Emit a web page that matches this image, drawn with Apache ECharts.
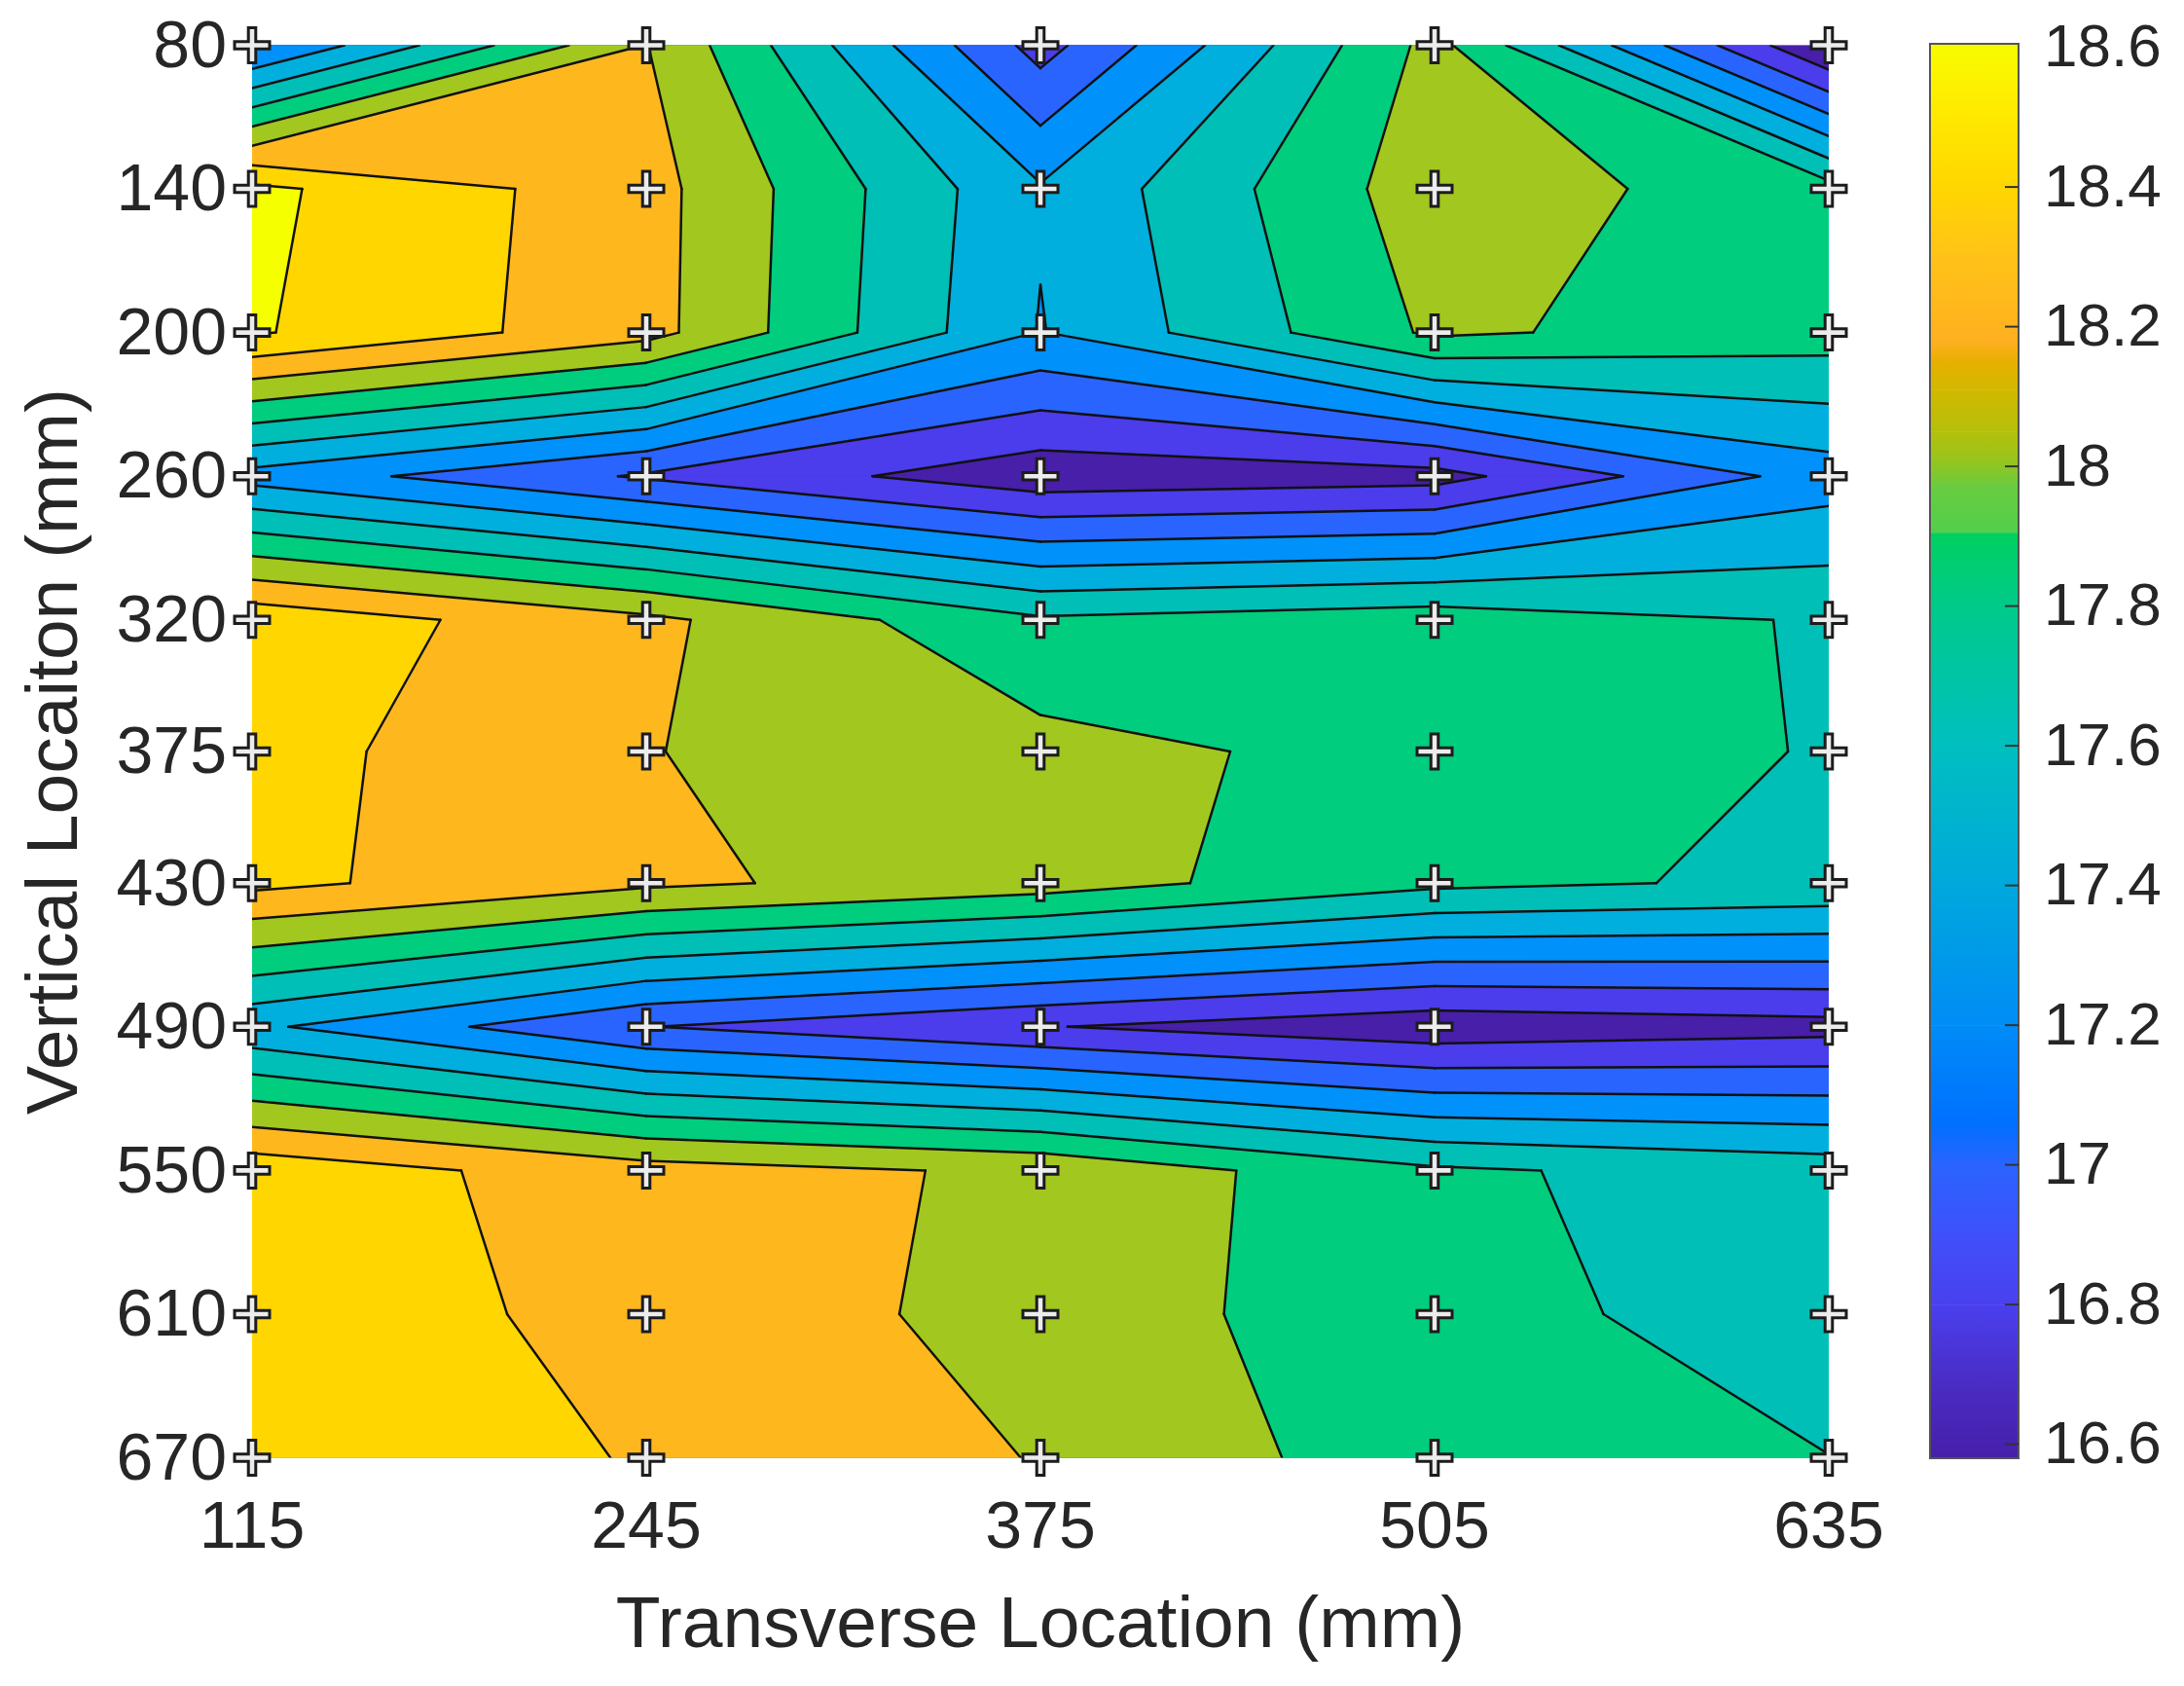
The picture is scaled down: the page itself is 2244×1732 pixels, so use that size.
<!DOCTYPE html>
<html><head><meta charset="utf-8">
<style>html,body{margin:0;padding:0;background:#fff}#c{width:2244px;height:1732px}</style>
<script src="https://cdn.jsdelivr.net/npm/echarts@6/dist/echarts.min.js"></script>
</head><body><div id="c"></div>
<script>
const transverse = [115, 245, 375, 505, 635];
const vertical = [80, 140, 200, 260, 320, 375, 430, 490, 550, 610, 670];
const row80  = [17.153, 18.207, 16.92, 18.07, 16.58];
const row140 = [18.647, 18.277, 17.42, 18.12, 17.875];
const row200 = [18.621, 18.273, 17.39, 18.035, 17.895];
const row260 = [17.323, 16.975, 16.67, 16.725, 17.30];
const row320 = [18.54, 18.247, 17.83, 17.91, 17.782];
const row375 = [18.479, 18.207, 18.065, 17.93, 17.785];
const row430 = [18.453, 18.24, 18.095, 17.845, 17.765];
const row490 = [17.44, 17.005, 16.81, 16.665, 16.73];
const row550 = [18.53, 18.285, 18.165, 17.833, 17.711];
const row610 = [18.51, 18.34, 18.122, 17.86, 17.72];
const row670 = [18.5, 18.39, 18.19, 17.88, 17.802];
const rows = [row80,row140,row200,row260,row320,row375,row430,row490,row550,row610,row670];
const levels = [16.8,17.0,17.2,17.4,17.6,17.8,18.0,18.2,18.4,18.6];
const baseColor = '#471fa9';
const bandColors = ['#4b3cec','#2a64ff','#0091fb','#00afdd','#00bfb6','#00cd7e','#a2c71f','#ffb71e','#ffd600','#f5ff00'];
const colorbarTicks = [16.6,16.8,17,17.2,17.4,17.6,17.8,18,18.2,18.4,18.6];
const colorbarValues = [16.58,16.7,16.8,16.9,17.0,17.06,17.2,17.4,17.6,17.8,17.905,17.906,17.97,18.01,18.05,18.11,18.15,18.18,18.3,18.4,18.5,18.605];
const colorbarColors = ['#471fa9','#4a2ec8','#4a40ee','#3f50fa','#2a64ff','#0070ff','#008cf6','#00a8dc','#00bfc0','#00ca8a','#00d060','#52cf4c','#68cc40','#98c41c','#b4c00c','#d2b800','#e6b000','#ffb020','#ffc218','#ffd600','#ffe800','#f8fc00'];

const ink = '#262626';
const font = '"Liberation Sans", Arial, sans-serif';

// one record per grid cell
const cells = [];
for (let j = 0; j < vertical.length - 1; j++) for (let i = 0; i < transverse.length - 1; i++) {
  cells.push([transverse[i], vertical[j], transverse[i+1], vertical[j+1],
    rows[j][i], rows[j][i+1], rows[j+1][i+1], rows[j+1][i]]);
}
function cellCorners(api) {
  const x0=api.value(0), y0=api.value(1), x1=api.value(2), y1=api.value(3);
  return [[x0,y0,api.value(4)],[x1,y0,api.value(5)],[x1,y1,api.value(6)],[x0,y1,api.value(7)]];
}
function cross(a,b,L){const t=(L-a[2])/(b[2]-a[2]);return [a[0]+t*(b[0]-a[0]),a[1]+t*(b[1]-a[1])];}
function regionAbove(cs,L){
  const out=[];
  for(let k=0;k<4;k++){const a=cs[k],b=cs[(k+1)%4];
    if(a[2]>=L) out.push([a[0],a[1]]);
    if((a[2]>=L)!==(b[2]>=L)) out.push(cross(a,b,L));
  }
  return out;
}
function segments(cs,L){
  const pts=[];let exitFirst=null;
  for(let k=0;k<4;k++){const a=cs[k],b=cs[(k+1)%4];
    if((a[2]>=L)!==(b[2]>=L)){ if(exitFirst===null) exitFirst=a[2]>=L; pts.push(cross(a,b,L)); }
  }
  if(pts.length===2) return [pts];
  if(pts.length===4) return exitFirst?[[pts[0],pts[1]],[pts[2],pts[3]]]:[[pts[1],pts[2]],[pts[3],pts[0]]];
  return [];
}
// one series per band so a band's seams never paint over a higher band
function fillRenderer(L,col){
  return function(params,api){
    const cs=cellCorners(api);
    const poly=L===null?cs.map(c=>[c[0],c[1]]):regionAbove(cs,L);
    if(poly.length<3) return {type:'group',children:[]};
    return {type:'polygon',shape:{points:poly.map(p=>api.coord(p))},
      style:{fill:col,stroke:col,lineWidth:1}};
  };
}
function renderLines(params,api){
  const cs=cellCorners(api), children=[];
  levels.forEach(L=>segments(cs,L).forEach(s=>children.push({type:'polyline',
    shape:{points:s.map(p=>api.coord(p))},
    style:{stroke:'#111',lineWidth:2.5,fill:null,lineCap:'round'}})));
  return {type:'group',children};
}
const fillSeries=[null].concat(levels).map((L,k)=>({
  type:'custom',xAxisIndex:0,yAxisIndex:0,data:cells,clip:true,silent:true,z:1+k*0.01,
  renderItem:fillRenderer(L,k===0?baseColor:bandColors[k-1]),encode:{x:[0,2],y:[1,3]}}));
const sensors=[];
vertical.forEach(y=>transverse.forEach(x=>sensors.push([x,y])));

const barSegs=[];
for(let k=0;k<colorbarValues.length-1;k++) barSegs.push([0,colorbarValues[k],1,colorbarValues[k+1],k]);
function renderBar(params,api){
  const k=api.value(4);
  const p0=api.coord([api.value(0),api.value(3)]), p1=api.coord([api.value(2),api.value(1)]);
  return {type:'rect',shape:{x:p0[0],y:p0[1],width:p1[0]-p0[0],height:p1[1]-p0[1]+0.6},
    style:{fill:new echarts.graphic.LinearGradient(0,0,0,1,[
      {offset:0,color:colorbarColors[k+1]},{offset:1,color:colorbarColors[k]}])}};
}
function renderBarTick(params,api){
  const p=api.coord([1,api.value(0)]);
  return {type:'line',shape:{x1:p[0],y1:p[1],x2:p[0]-14,y2:p[1]},style:{stroke:'#333',lineWidth:2}};
}
const chart=echarts.init(document.getElementById('c'),null,{renderer:'canvas'});
chart.setOption({
  animation:false,backgroundColor:'#fff',
  grid:[{left:259,top:46.5,width:1620,height:1451,containLabel:false},
        {left:1983,top:45,width:91,height:1453,containLabel:false}],
  xAxis:[{type:'value',gridIndex:0,min:115,max:635,position:'bottom',
      name:'Transverse Location (mm)',nameLocation:'middle',nameGap:136,
      nameTextStyle:{fontFamily:font,fontSize:75,color:ink},
      axisLine:{show:false},splitLine:{show:false},axisTick:{show:false,customValues:transverse},
      axisLabel:{customValues:transverse,fontFamily:font,fontSize:68,color:ink,margin:40,hideOverlap:false}},
    {type:'value',gridIndex:1,min:0,max:1,show:false}],
  yAxis:[{type:'value',gridIndex:0,min:80,max:670,inverse:true,
      name:'Vertical Locaiton (mm)',nameLocation:'middle',nameGap:163,
      nameTextStyle:{fontFamily:font,fontSize:75,color:ink},
      axisLine:{show:false},splitLine:{show:false},axisTick:{show:false,customValues:vertical},
      axisLabel:{customValues:vertical,fontFamily:font,fontSize:68,color:ink,margin:26,hideOverlap:false,verticalAlign:'top',lineHeight:7}},
    {type:'value',gridIndex:1,min:16.58,max:18.605,position:'right',
      axisLine:{show:false},splitLine:{show:false},axisTick:{show:false,customValues:colorbarTicks},
      axisLabel:{customValues:colorbarTicks,fontFamily:font,fontSize:62,color:ink,margin:26,hideOverlap:false,verticalAlign:'top',lineHeight:5}}],
  series:fillSeries.concat([
    {type:'custom',xAxisIndex:0,yAxisIndex:0,data:cells,renderItem:renderLines,clip:true,silent:true,z:2,
     encode:{x:[0,2],y:[1,3]}},
    {type:'scatter',xAxisIndex:0,yAxisIndex:0,data:sensors,clip:false,silent:true,z:5,
     symbol:'path://M-4.2,-20 H4.2 V-4.2 H20 V4.2 H4.2 V20 H-4.2 V4.2 H-20 V-4.2 H-4.2 Z',symbolSize:36,
     itemStyle:{color:'#ececec',borderColor:'#1c1c1c',borderWidth:3,opacity:1}},
    {type:'custom',xAxisIndex:1,yAxisIndex:1,data:barSegs,renderItem:renderBar,silent:true,z:1,
     encode:{x:[0,2],y:[1,3]}},
    {type:'custom',xAxisIndex:1,yAxisIndex:1,data:colorbarTicks.filter(v=>v<18.5).map(v=>[v]),renderItem:renderBarTick,silent:true,z:3,
     encode:{y:0}}
  ]),
  graphic:[{type:'rect',z:3,silent:true,shape:{x:1983,y:45,width:91,height:1453},
    style:{fill:null,stroke:'#555',lineWidth:2}}]
});
</script></body></html>
